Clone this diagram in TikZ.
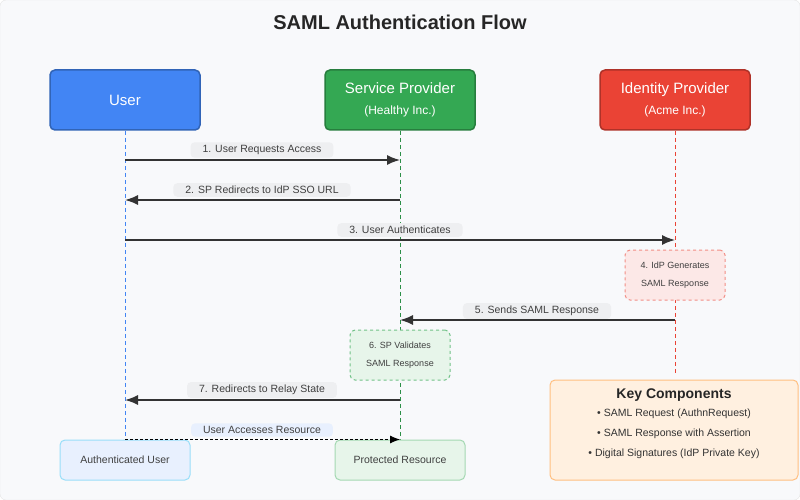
\documentclass[tikz,border=0pt]{standalone}
\usepackage{fontspec}
\setmainfont{Liberation Sans}
\usetikzlibrary{arrows.meta, positioning}
\definecolor{bgc}{HTML}{F8F9FB}
\definecolor{ublue}{HTML}{4285F4}
\definecolor{sgreen}{HTML}{34A853}
\definecolor{ired}{HTML}{EA4335}
\definecolor{lbl}{HTML}{EEEFF1}
\tikzset{
  actor/.style={draw, line width=1.5pt, rounded corners=5pt, minimum width=150pt, minimum height=60pt, text=white, font=\fontsize{15}{19}\selectfont, align=center},
  life/.style={line width=1pt, dash pattern=on 4pt off 3pt},
  msg/.style={line width=1.5pt, draw=black!80, -{Latex[length=13pt,width=10pt]}},
  tag/.style={fill=lbl, rounded corners=4pt, font=\fontsize{10.5}{12}\selectfont, inner xsep=12pt, inner ysep=3pt, text=black!75},
  note/.style={dashed, line width=1pt, rounded corners=5pt, minimum width=100pt, minimum height=50pt, font=\fontsize{9}{18}\selectfont, align=center, text=black!75},
  result/.style={draw, line width=1pt, rounded corners=5pt, minimum width=130pt, minimum height=40pt, font=\fontsize{10.5}{12}\selectfont, text=black!75}
}
\begin{document}
\begin{tikzpicture}[x=1pt,y=-1pt]
  \useasboundingbox (0,0) rectangle (800,500);
  \fill[bgc, draw=black!10, rounded corners=6pt] (0,0) rectangle (800,500);
  \node[font=\bfseries\fontsize{20}{24}\selectfont, text=black!85] (title) at (400,22) {SAML Authentication Flow};
  % participants
  \node[actor, fill=ublue, draw=ublue!75!black] (user) at (125,100) {User};
  \node[actor, fill=sgreen, draw=sgreen!75!black] (sp) at (400,100) {Service Provider\\[2pt]{\fontsize{12}{14}\selectfont(Healthy Inc.)}};
  \node[actor, fill=ired, draw=ired!75!black] (idp) at (675,100) {Identity Provider\\[2pt]{\fontsize{12}{14}\selectfont(Acme Inc.)}};
  % lifelines
  \coordinate (uend) at (125,440);
  \coordinate (send) at (400,440);
  \coordinate (iend) at (675,375);
  \draw[life, ublue] (user) -- (uend);
  \draw[life, sgreen!85!black] (sp) -- (send);
  \draw[life, ired] (idp) -- (iend);
  % steps
  \foreach \n/\y in {1/160, 2/200, 3/240, 5/320, 7/400}{
    \coordinate (u\n) at (125,\y);
    \coordinate (s\n) at (400,\y);
    \coordinate (i\n) at (675,\y);
  }
  \draw[msg] (u1) -- (s1);
  \draw[msg] (s2) -- (u2);
  \draw[msg] (u3) -- (i3);
  \draw[msg] (i5) -- (s5);
  \draw[msg] (s7) -- (u7);
  \node[tag] (t1) at (262,150) {1. User Requests Access};
  \node[tag] (t2) at (262,190) {2. SP Redirects to IdP SSO URL};
  \node[tag] (t3) at (400,230) {3. User Authenticates};
  \node[tag] (t5) at (537,311) {5. Sends SAML Response};
  \node[tag] (t7) at (262,390) {7. Redirects to Relay State};
  % processing notes
  \node[note, fill=ired!12, draw=ired!60] (n4) at (675,275) {4. IdP Generates\\SAML Response};
  \node[note, fill=sgreen!12, draw=sgreen!70] (n6) at (400,355) {6. SP Validates\\SAML Response};
  % outcome
  \node[result, fill=ublue!12, draw=cyan!40] (auth) at (125,460) {Authenticated User};
  \node[result, fill=sgreen!12, draw=sgreen!45] (res) at (400,460) {Protected Resource};
  \draw[densely dashed, line width=0.8pt, -{Latex[length=10pt,width=8pt]}] (auth.north) -- (res.north);
  \node[tag, fill=ublue!12] (t8) at (262,430) {User Accesses Resource};
  % legend
  \node[draw=orange!50, fill=orange!12, line width=1pt, rounded corners=5pt, minimum width=248pt, minimum height=100pt] (key) at (674,430) {};
  \node[font=\bfseries\fontsize{14}{16}\selectfont, text=black!85] (keyt) at (674,395) {Key Components};
  \node[font=\fontsize{10.5}{20}\selectfont, align=center, text=black!80, below=0pt of keyt] (keyl) {\textbullet\ SAML Request (AuthnRequest)\\\textbullet\ SAML Response with Assertion\\\textbullet\ Digital Signatures (IdP Private Key)};
\end{tikzpicture}
\end{document}
